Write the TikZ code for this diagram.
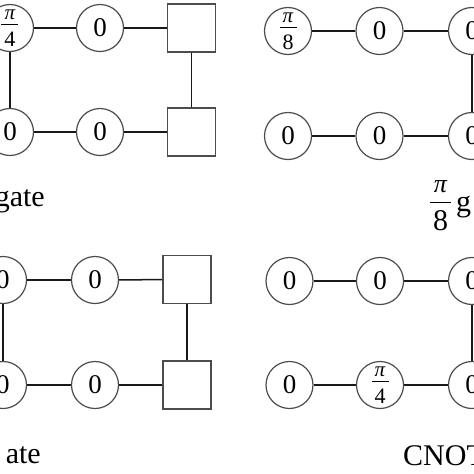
\documentclass[tikz,border=0pt]{standalone}
\usepackage{fontspec}
\setmainfont{Liberation Serif}
\newcommand\vfr[6]{\vbox{\hbox to #3{\hss #1\hss}\kern#4\hrule height #5\kern#6\hbox to #3{\hss #2\hss}}}
\newcommand\cfr[1]{\vfr{\fontsize{21}{21}\selectfont\itshape π}{\fontsize{22}{22}\selectfont #1}{17pt}{4.4pt}{1.2pt}{6.4pt}}
\tikzset{
  qc/.style={circle, draw=black!70, line width=1.2pt, minimum size=47pt, inner sep=0pt, font=\fontsize{27}{27}\selectfont},
  qs/.style={rectangle, draw=black!70, line width=1.2pt, minimum size=48pt, inner sep=0pt},
  lk/.style={draw=black!90, line width=1.5pt},
  lbl/.style={inner sep=0pt, font=\fontsize{30}{30}\selectfont}
}
\begin{document}
\begin{tikzpicture}[x=1pt,y=-1pt]
\useasboundingbox (0,0) rectangle (474,474);
\clip (0,0) rectangle (474,474);
% top-left
\node[qc] (a1) at (10,28) {\cfr{4}};
\node[qc] (a2) at (100,28) {0};
\node[qs] (a3) at (191.5,28) {};
\node[qc] (b1) at (10,132) {0};
\node[qc] (b2) at (100,132) {0};
\node[qs] (b3) at (191.5,132) {};
\draw[lk] (a1) -- (a2); \draw[lk] (a2) -- (a3); \draw[lk] (a1) -- (b1);
\draw[lk] (b1) -- (b2); \draw[lk] (b2) -- (b3); \draw[lk] (a3) -- (b3);
\node[lbl, anchor=base east] (la) at (45,206) {gate};
% top-right
\node[qc] (c1) at (288,31) {\cfr{8}};
\node[qc] (c2) at (379.5,31) {0};
\node[qc] (c3) at (472,31) {0};
\node[qc] (d1) at (288,136) {0};
\node[qc] (d2) at (379.5,136) {0};
\node[qc] (d3) at (472,136) {0};
\draw[lk] (c1) -- (c2); \draw[lk] (c2) -- (c3); \draw[lk] (c3) -- (d3);
\draw[lk] (d1) -- (d2); \draw[lk] (d2) -- (d3);
\node[lbl] (lbf) at (440.5,205.5) {\vfr{\fontsize{26}{26}\selectfont\itshape π}{\fontsize{30}{30}\selectfont 8}{21pt}{9pt}{1.8pt}{7pt}};
\node[lbl, anchor=base west] (lbg) at (456,211) {g};
% bottom-left
\node[qc] (e1) at (3,280) {0};
\node[qc] (e2) at (95,280) {0};
\node[qs] (e3) at (187,279.5) {};
\node[qc] (f1) at (3,385) {0};
\node[qc] (f2) at (95,385) {0};
\node[qs] (f3) at (187,385) {};
\draw[lk] (e1) -- (e2); \draw[lk] (e2) -- (e3); \draw[lk] (e1) -- (f1);
\draw[lk] (f1) -- (f2); \draw[lk] (f2) -- (f3); \draw[lk] (e3) -- (f3);
\node[lbl, anchor=base east] (lc) at (41,463) {ate};
% bottom-right
\node[qc] (g1) at (289.5,281) {0};
\node[qc] (g2) at (380,281) {0};
\node[qc] (g3) at (472,281) {0};
\node[qc] (h1) at (289.5,385) {0};
\node[qc] (h2) at (380,385) {\cfr{4}};
\node[qc] (h3) at (472,385) {0};
\draw[lk] (g1) -- (g2); \draw[lk] (g2) -- (g3); \draw[lk] (g3) -- (h3);
\draw[lk] (h1) -- (h2); \draw[lk] (h2) -- (h3);
\node[lbl, anchor=base west] (ld) at (403,465) {CNOT};
\end{tikzpicture}
\end{document}
